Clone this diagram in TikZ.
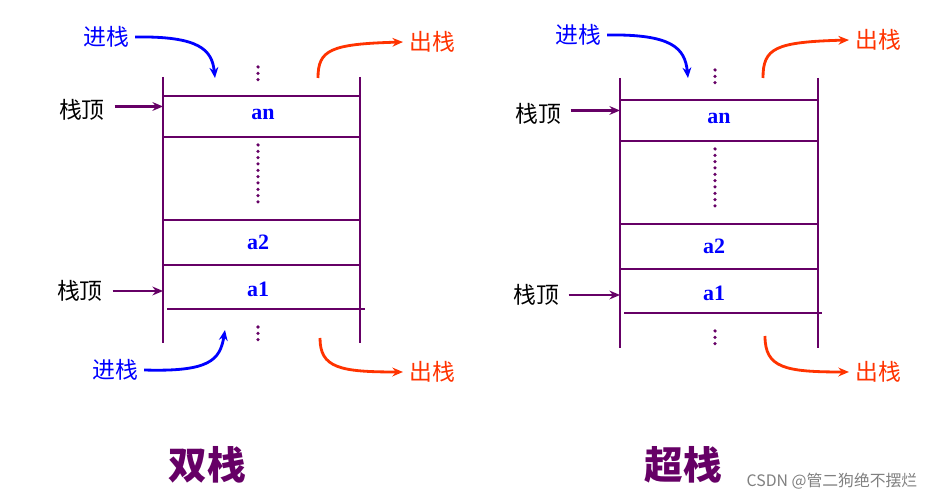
\documentclass[tikz,border=0pt]{standalone}
\usepackage{fontspec}
\setmainfont{Liberation Serif}
\newfontfamily\cjk{Noto Sans CJK SC}
\usetikzlibrary{arrows.meta}
\definecolor{pur}{HTML}{660066}
\definecolor{bl}{HTML}{0000FF}
\definecolor{rd}{HTML}{FF3300}
\begin{document}
\begin{tikzpicture}[x=0.02cm,y=-0.02cm,
  wall/.style={pur,line width=1.4pt},
  lab/.style={text=bl,font=\bfseries\fontsize{12.5}{12.5}\selectfont},
  cn/.style={font=\cjk\fontsize{13}{13}\selectfont},
  tip/.style={-{Stealth[length=6pt,width=5pt]}},
  dots/.style={pur,line width=2pt,line cap=round,dash pattern=on 0pt off 3.6pt}]
\useasboundingbox[fill=white] (0,0) rectangle (951,499);
% ---------- left stack
\draw[wall] (163,77)--(163,343) (360,77)--(360,343);
\foreach \y in {96,137,220,265} \draw[wall] (163,\y)--(360,\y);
\draw[wall] (167,309)--(365,309);
\node[lab] (lan) at (263,114) {an};
\node[lab] (la2) at (258,242) {a2};
\node[lab] (la1) at (258,289) {a1};
\draw[dots] (258,67)--(258,83) (258,145)--(258,208) (258,327)--(258,343);
\node[cn] (lt1) at (82,110) {栈顶};
\node[cn] (lt2) at (80,291) {栈顶};
\coordinate (lt1e) at (163,114); \coordinate (lt2e) at (163,289);
\draw[pur,line width=1.2pt,tip] (lt1.east)++(2pt,2pt) coordinate (a) -- (a -| lt1e);
\draw[pur,line width=1.2pt,tip] (lt2.east)++(2pt,0) coordinate (b) -- (b -| lt2e);
\node[cn,text=bl] (lin1) at (106,37) {进栈};
\node[cn,text=bl] (lin2) at (115,370) {进栈};
\coordinate (lin1e) at (215,78); \coordinate (lin2e) at (225,330);
\draw[bl,line width=1.6pt,tip] (lin1.east) .. controls (200,36) and (212,50) .. (lin1e);
\draw[bl,line width=1.6pt,tip] (lin2.east) .. controls (210,372) and (220,360) .. (lin2e);
\node[cn,text=rd] (lout1) at (432,42) {出栈};
\node[cn,text=rd] (lout2) at (432,372) {出栈};
\coordinate (lo1s) at (318,78); \coordinate (lo2s) at (320,338);
\draw[rd,line width=1.6pt,tip] (lo1s) .. controls (318,50) and (330,44) .. (lout1.west);
\draw[rd,line width=1.6pt,tip] (lo2s) .. controls (320,368) and (340,372) .. (lout2.west);
\node[pur,font=\cjk\bfseries\fontsize{22}{22}\selectfont] (t1) at (207,465) {双栈};
% ---------- right stack
\draw[wall] (620,78)--(620,348) (818,78)--(818,348);
\foreach \y in {100,141,224,269} \draw[wall] (620,\y)--(818,\y);
\draw[wall] (624,313)--(822,313);
\node[lab] (ran) at (719,118) {an};
\node[lab] (ra2) at (714,246) {a2};
\node[lab] (ra1) at (714,293) {a1};
\draw[dots] (715,70)--(715,87) (715,149)--(715,212) (715,331)--(715,348);
\node[cn] (rt1) at (538,114) {栈顶};
\node[cn] (rt2) at (536,295) {栈顶};
\coordinate (rt1e) at (620,117); \coordinate (rt2e) at (620,294);
\draw[pur,line width=1.2pt,tip] (rt1.east)++(2pt,2pt) coordinate (c) -- (c -| rt1e);
\draw[pur,line width=1.2pt,tip] (rt2.east)++(2pt,0) coordinate (d) -- (d -| rt2e);
\node[cn,text=bl] (rin1) at (578,35) {进栈};
\coordinate (rin1e) at (688,78);
\draw[bl,line width=1.6pt,tip] (rin1.east) .. controls (672,34) and (685,48) .. (rin1e);
\node[cn,text=rd] (rout1) at (878,40) {出栈};
\node[cn,text=rd] (rout2) at (878,372) {出栈};
\coordinate (ro1s) at (763,78); \coordinate (ro2s) at (765,336);
\draw[rd,line width=1.6pt,tip] (ro1s) .. controls (763,48) and (775,42) .. (rout1.west);
\draw[rd,line width=1.6pt,tip] (ro2s) .. controls (765,368) and (785,372) .. (rout2.west);
\node[pur,font=\cjk\bfseries\fontsize{22}{22}\selectfont] (t2) at (683,465) {超栈};
\node[gray,font=\cjk\fontsize{9}{9}\selectfont] (wm) at (832,481) {CSDN @管二狗绝不摆烂};
\end{tikzpicture}
\end{document}
